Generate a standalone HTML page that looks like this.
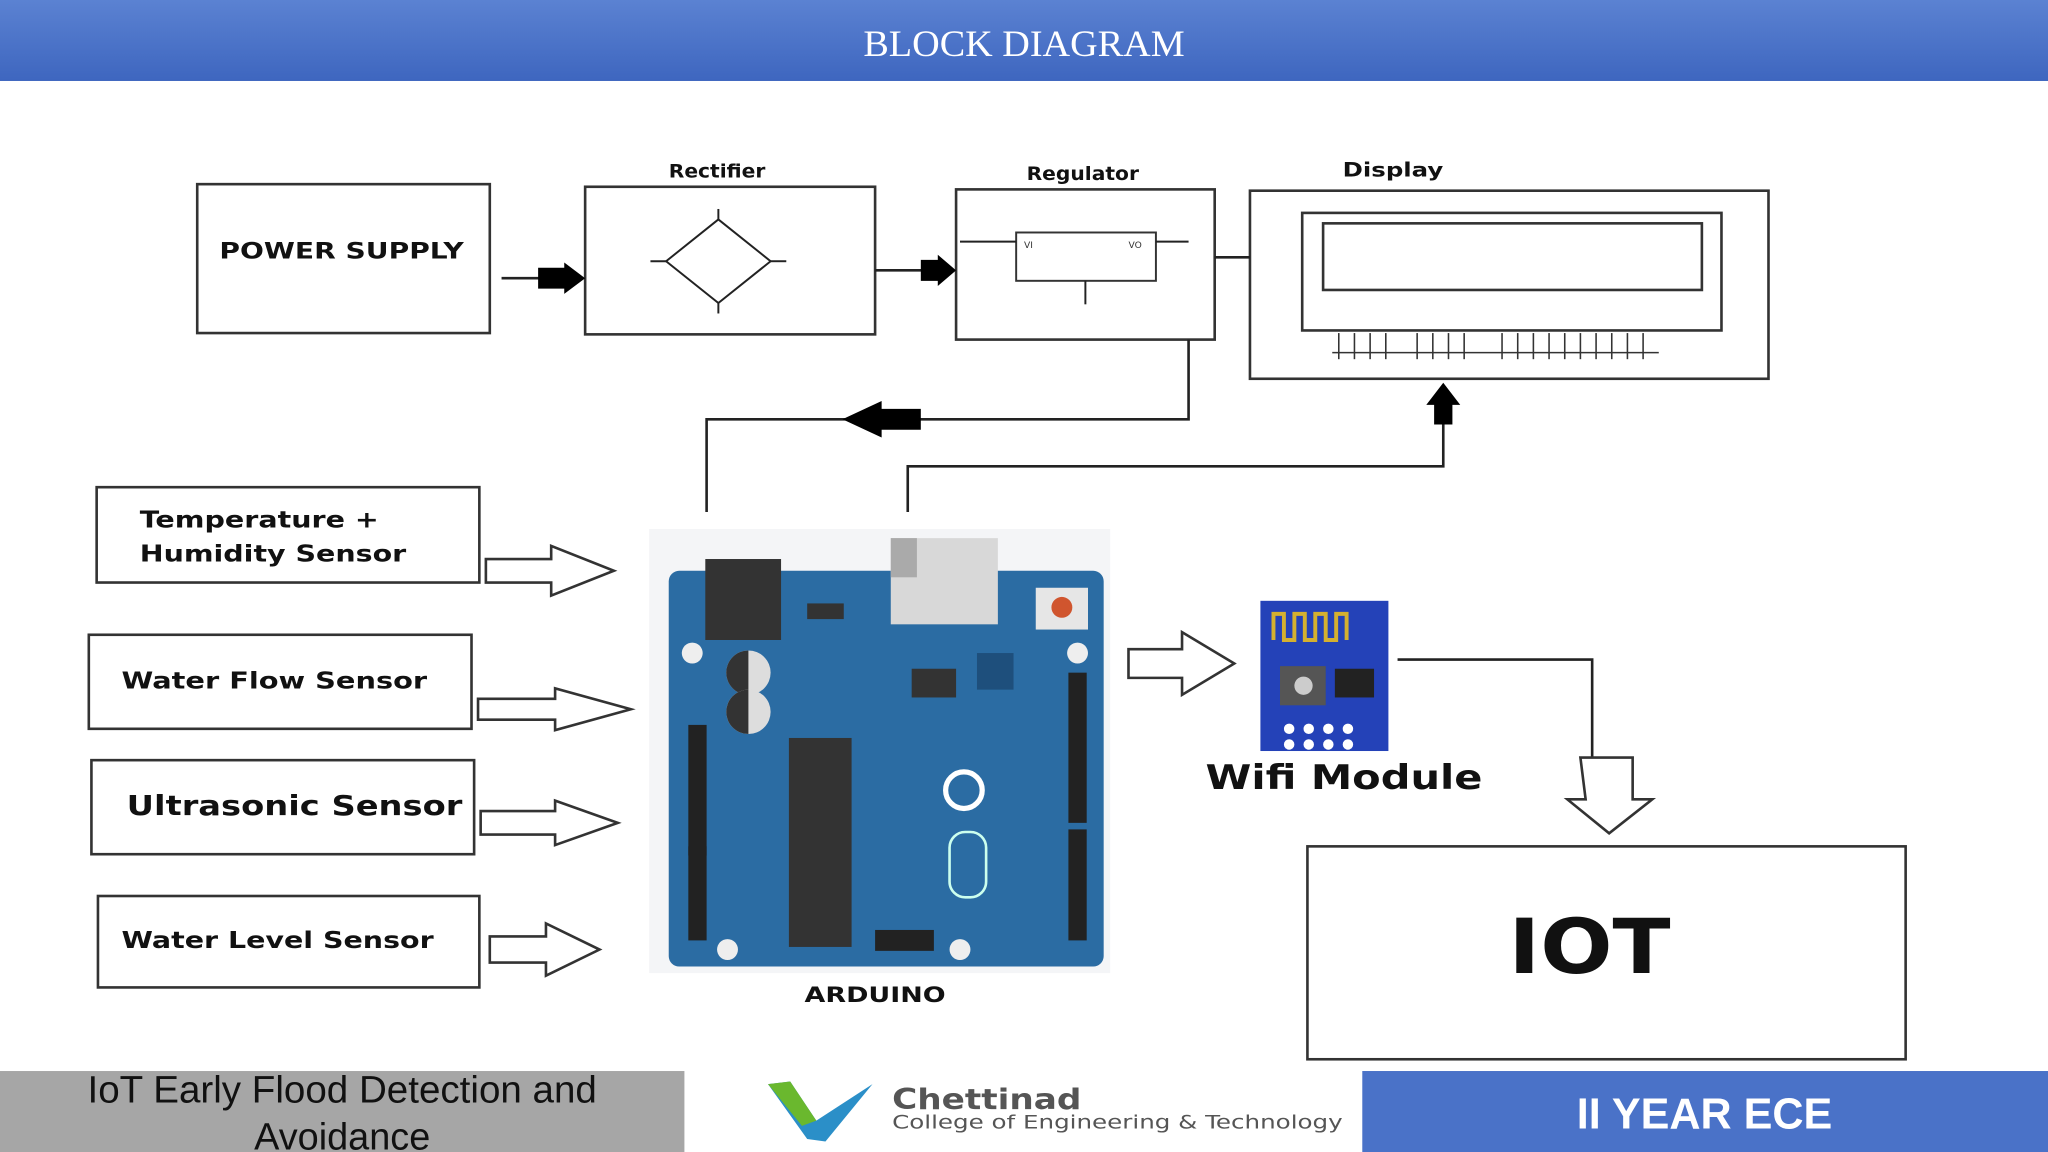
<!DOCTYPE html>
<html><head><meta charset="utf-8"><style>
html,body{margin:0;padding:0;background:#fff;}
svg{display:block;}
</style></head><body>
<svg width="2048" height="1152" viewBox="0 0 1568 882" xmlns="http://www.w3.org/2000/svg">
<defs>
<linearGradient id="hb" x1="0" y1="0" x2="0" y2="1"><stop offset="0" stop-color="#5b82d2"/><stop offset="1" stop-color="#3e66bf"/></linearGradient>
</defs>
<rect width="1568" height="882" fill="#fff"/>
<rect x="0" y="0" width="1568" height="62" fill="url(#hb)"/>
<text x="661" y="43" textLength="246" lengthAdjust="spacingAndGlyphs" font-family="Liberation Serif,serif" font-size="28" fill="#fff">BLOCK DIAGRAM</text>

<g fill="none" stroke="#333" stroke-width="2">
<rect x="151" y="141" width="224" height="114"/>
<rect x="448" y="143" width="222" height="113"/>
<rect x="732" y="145" width="198" height="115"/>
<rect x="957" y="146" width="397" height="144"/>
<rect x="997" y="163" width="321" height="90"/>
<rect x="1013" y="171" width="290" height="51"/>
<rect x="74" y="373" width="293" height="73"/>
<rect x="68" y="486" width="293" height="72"/>
<rect x="70" y="582" width="293" height="72"/>
<rect x="75" y="686" width="292" height="70"/>
<rect x="1001" y="648" width="458" height="163"/>
<rect x="778" y="178" width="107" height="37" stroke-width="1.5"/>
</g>
<g font-family="DejaVu Sans,sans-serif" font-weight="bold" fill="#111" lengthAdjust="spacingAndGlyphs">
<text x="168" y="198" textLength="187" lengthAdjust="spacingAndGlyphs" font-size="17">POWER SUPPLY</text>
<text x="512" y="136" textLength="74" lengthAdjust="spacingAndGlyphs" font-size="14">Rectifier</text>
<text x="786" y="138" textLength="86" lengthAdjust="spacingAndGlyphs" font-size="14">Regulator</text>
<text x="1028" y="135" textLength="77" lengthAdjust="spacingAndGlyphs" font-size="15">Display</text>
<text x="107" y="404" textLength="183" lengthAdjust="spacingAndGlyphs" font-size="18">Temperature +</text>
<text x="107" y="430" textLength="204" lengthAdjust="spacingAndGlyphs" font-size="18">Humidity Sensor</text>
<text x="93" y="527" textLength="234" lengthAdjust="spacingAndGlyphs" font-size="18">Water Flow Sensor</text>
<text x="97" y="624" textLength="257" lengthAdjust="spacingAndGlyphs" font-size="21">Ultrasonic Sensor</text>
<text x="93" y="726" textLength="239" lengthAdjust="spacingAndGlyphs" font-size="18">Water Level Sensor</text>
<text x="616" y="767" textLength="108" lengthAdjust="spacingAndGlyphs" font-size="16">ARDUINO</text>
<text x="923" y="604" textLength="212" lengthAdjust="spacingAndGlyphs" font-size="26">Wifi Module</text>
<text x="1155" y="745" textLength="124" lengthAdjust="spacingAndGlyphs" font-size="58">IOT</text>
</g>
<g stroke="#222" stroke-width="1.5" fill="none">
<polygon points="550,168 590,200 550,232 510,200"/>
<line x1="550" y1="160" x2="550" y2="168"/><line x1="550" y1="232" x2="550" y2="240"/>
<line x1="498" y1="200" x2="510" y2="200"/><line x1="590" y1="200" x2="602" y2="200"/>
<line x1="735" y1="185" x2="778" y2="185"/><line x1="885" y1="185" x2="910" y2="185"/>
<line x1="831" y1="215" x2="831" y2="233"/>
</g>
<g font-family="DejaVu Sans,sans-serif" font-size="7" fill="#333">
<text x="784" y="190">VI</text><text x="864" y="190">VO</text>
</g>
<g stroke="#333" stroke-width="1.2">
<line x1="1020" y1="270" x2="1270" y2="270"/>
<line x1="1025" y1="255" x2="1025" y2="275"/><line x1="1037" y1="255" x2="1037" y2="275"/><line x1="1049" y1="255" x2="1049" y2="275"/><line x1="1061" y1="255" x2="1061" y2="275"/>
<line x1="1085" y1="255" x2="1085" y2="275"/><line x1="1097" y1="255" x2="1097" y2="275"/><line x1="1109" y1="255" x2="1109" y2="275"/><line x1="1121" y1="255" x2="1121" y2="275"/>
<line x1="1150" y1="255" x2="1150" y2="275"/><line x1="1162" y1="255" x2="1162" y2="275"/><line x1="1174" y1="255" x2="1174" y2="275"/><line x1="1186" y1="255" x2="1186" y2="275"/><line x1="1198" y1="255" x2="1198" y2="275"/><line x1="1210" y1="255" x2="1210" y2="275"/><line x1="1222" y1="255" x2="1222" y2="275"/><line x1="1234" y1="255" x2="1234" y2="275"/><line x1="1246" y1="255" x2="1246" y2="275"/><line x1="1258" y1="255" x2="1258" y2="275"/>
</g>
<g stroke="#222" stroke-width="2" fill="none">
<line x1="384" y1="213" x2="415" y2="213"/>
<line x1="670" y1="207" x2="710" y2="207"/>
<line x1="930" y1="197" x2="957" y2="197"/>
<polyline points="910,260 910,321 541,321 541,392"/>
<polyline points="695,392 695,357 1105,357 1105,320"/>
<polyline points="1070,505 1219,505 1219,580"/>
</g>
<g fill="#000">
<polygon points="412,205 432,205 432,201 448,213 432,225 432,221 412,221"/>
<polygon points="705,199 718,199 718,195 732,207 718,219 718,215 705,215"/>
<polygon points="705,313 675,313 675,307 645,321 675,335 675,329 705,329"/>
<polygon points="1098,325 1098,310 1092,310 1105,293 1118,310 1112,310 1112,325"/>
</g>
<g fill="#fff" stroke="#333" stroke-width="2">
<polygon points="372,428 422,428 422,418 470,437 422,456 422,446 372,446"/>
<polygon points="366,535 425,535 425,527 483,543 425,559 425,551 366,551"/>
<polygon points="368,621 425,621 425,613 473,630 425,647 425,639 368,639"/>
<polygon points="375,717 418,717 418,707 459,727 418,747 418,737 375,737"/>
<polygon points="864,497 905,497 905,484 945,508 905,532 905,519 864,519"/>
<polygon points="1210,580 1250,580 1250,612 1265,612 1232,638 1200,612 1214,612"/>
</g>
<rect x="497" y="405" width="353" height="340" fill="#f4f5f7"/>
<rect x="512" y="437" width="333" height="303" rx="8" fill="#2b6ca3"/>
<rect x="540" y="428" width="58" height="62" fill="#333"/>
<rect x="682" y="412" width="82" height="66" fill="#d8d8d8"/>
<rect x="682" y="412" width="20" height="30" fill="#aaa"/>
<rect x="793" y="450" width="40" height="32" fill="#e6e6e6"/><circle cx="813" cy="465" r="8" fill="#d0552e"/>
<rect x="618" y="462" width="28" height="12" fill="#333"/>
<circle cx="530" cy="500" r="8" fill="#eee"/><circle cx="825" cy="500" r="8" fill="#eee"/>
<circle cx="557" cy="727" r="8" fill="#eee"/><circle cx="735" cy="727" r="8" fill="#eee"/>
<circle cx="573" cy="515" r="17" fill="#ddd"/><path d="M573,498 a17,17 0 0 0 0,34z" fill="#333"/>
<circle cx="573" cy="545" r="17" fill="#ddd"/><path d="M573,528 a17,17 0 0 0 0,34z" fill="#333"/>
<rect x="604" y="565" width="48" height="160" fill="#333"/>
<rect x="698" y="512" width="34" height="22" fill="#333"/>
<rect x="748" y="500" width="28" height="28" fill="#1e4f7c"/>
<rect x="527" y="555" width="14" height="100" fill="#222"/>
<rect x="527" y="648" width="14" height="72" fill="#222"/>
<rect x="818" y="515" width="14" height="115" fill="#222"/>
<rect x="818" y="635" width="14" height="85" fill="#222"/>
<rect x="670" y="712" width="45" height="16" fill="#222"/>
<circle cx="738" cy="605" r="14" fill="none" stroke="#fff" stroke-width="4"/>
<rect x="727" y="637" width="28" height="50" rx="12" fill="none" stroke="#cfe" stroke-width="2"/>
<rect x="965" y="460" width="98" height="115" fill="#2442b8"/>
<path d="M975,490 v-20 h8 v20 h8 v-20 h8 v20 h8 v-20 h8 v20 h8 v-20 h8 v20" fill="none" stroke="#d4b030" stroke-width="3"/>
<rect x="980" y="510" width="35" height="30" fill="#555"/><circle cx="998" cy="525" r="7" fill="#ccc"/>
<rect x="1022" y="512" width="30" height="22" fill="#222"/>
<g fill="#fff"><circle cx="987" cy="558" r="4"/><circle cx="1002" cy="558" r="4"/><circle cx="1017" cy="558" r="4"/><circle cx="1032" cy="558" r="4"/><circle cx="987" cy="570" r="4"/><circle cx="1002" cy="570" r="4"/><circle cx="1017" cy="570" r="4"/><circle cx="1032" cy="570" r="4"/></g>

<rect x="0" y="820" width="524" height="62" fill="#a6a6a6"/>
<text x="67" y="844" textLength="390" lengthAdjust="spacingAndGlyphs" font-family="Liberation Sans,sans-serif" font-size="29" fill="#111">IoT Early Flood Detection and</text>
<text x="262" y="880" text-anchor="middle" font-family="Liberation Sans,sans-serif" font-size="29" fill="#111">Avoidance</text>
<polygon points="588,830 605,828 625,858 668,830 632,874 618,872" fill="#2b8fc8"/>
<polygon points="588,830 605,828 625,858 614,862" fill="#6ab82e"/>
<text x="683" y="849" textLength="145" lengthAdjust="spacingAndGlyphs" font-family="DejaVu Sans,sans-serif" font-weight="bold" font-size="22" fill="#555">Chettinad</text>
<text x="683" y="864" textLength="345" lengthAdjust="spacingAndGlyphs" font-family="DejaVu Sans,sans-serif" font-size="14" fill="#555">College of Engineering &amp; Technology</text>
<rect x="1043" y="820" width="525" height="62" fill="#4a72c8"/>
<text x="1305" y="864" text-anchor="middle" font-family="Liberation Sans,sans-serif" font-weight="bold" font-size="33" fill="#fff">II YEAR ECE</text>
</svg>
</body></html>
